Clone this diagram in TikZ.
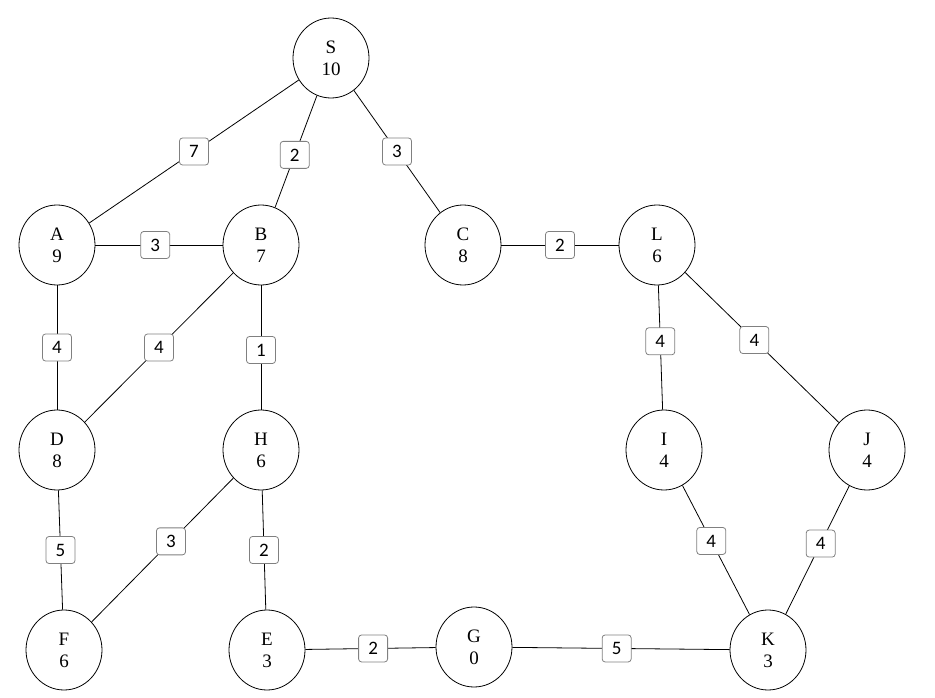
\documentclass[tikz,border=0pt]{standalone}
\usepackage{fontspec}
\usetikzlibrary{shapes.geometric}
\setmainfont{Liberation Serif}
\newfontfamily\lblfont{Carlito}
\begin{document}
\begin{tikzpicture}[x=1pt,y=-1pt,
  st/.style={draw,thick,ellipse,minimum width=76pt,minimum height=80pt,inner sep=0pt,align=center,font=\fontsize{19}{22}\selectfont},
  w/.style={draw=gray,fill=white,rounded corners=3pt,minimum width=29pt,minimum height=27pt,inner sep=0pt,font=\lblfont\fontsize{19}{22}\selectfont},
  ed/.style={thick}]
\useasboundingbox (0,0) rectangle (935,698);
\node[st] (S) at (331,58) {S\\10};
\node[st] (A) at (57,245) {A\\9};
\node[st] (B) at (261,245) {B\\7};
\node[st] (C) at (463,245) {C\\8};
\node[st] (L) at (657,245) {L\\6};
\node[st] (D) at (57,450) {D\\8};
\node[st] (H) at (261,450) {H\\6};
\node[st] (I) at (664,450) {I\\4};
\node[st] (J) at (867,450) {J\\4};
\node[st] (F) at (64,650) {F\\6};
\node[st] (E) at (267,650) {E\\3};
\node[st] (G) at (474,647) {G\\0};
\node[st] (K) at (768,650) {K\\3};
\draw[ed] (S) -- node[w,pos=0.5] (l1) {7} (A);
\draw[ed] (S) -- node[w,pos=0.53] (l2) {2} (B);
\draw[ed] (S) -- node[w,pos=0.5] (l3) {3} (C);
\draw[ed] (A) -- node[w,pos=0.47] (l4) {3} (B);
\draw[ed] (C) -- node[w,pos=0.5] (l5) {2} (L);
\draw[ed] (A) -- node[w,pos=0.5] (l6) {4} (D);
\draw[ed] (B) -- node[w,pos=0.5] (l7) {4} (D);
\draw[ed] (B) -- node[w,pos=0.52] (l8) {1} (H);
\draw[ed] (L) -- node[w,pos=0.45] (l9) {4} (I);
\draw[ed] (L) -- node[w,pos=0.45] (l10) {4} (J);
\draw[ed] (D) -- node[w,pos=0.5] (l11) {5} (F);
\draw[ed] (H) -- node[w,pos=0.44] (l12) {3} (F);
\draw[ed] (H) -- node[w,pos=0.5] (l13) {2} (E);
\draw[ed] (I) -- node[w,pos=0.43] (l14) {4} (K);
\draw[ed] (J) -- node[w,pos=0.45] (l15) {4} (K);
\draw[ed] (E) -- node[w,pos=0.52] (l16) {2} (G);
\draw[ed] (G) -- node[w,pos=0.48] (l17) {5} (K);
\end{tikzpicture}
\end{document}
